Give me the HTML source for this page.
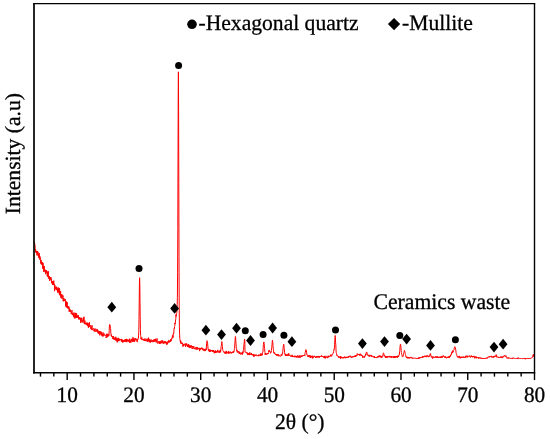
<!DOCTYPE html>
<html><head><meta charset="utf-8"><style>
html,body{margin:0;padding:0;background:#fff;}
svg{display:block}
text{font-family:"Liberation Serif","Times New Roman",serif;font-size:21.6px;fill:#000;stroke:#000;stroke-width:0.3px;text-rendering:geometricPrecision}
</style></head><body>
<svg width="550" height="439" viewBox="0 0 550 439">
<rect x="0" y="0" width="550" height="439" fill="#fff"/>
<polyline points="34.0,241.6 34.2,243.3 34.4,243.2 34.6,243.0 34.8,245.1 35.0,245.0 35.2,248.4 35.4,252.2 35.6,249.4 35.8,249.9 36.0,252.7 36.2,252.8 36.4,252.7 36.6,251.0 36.8,253.3 37.0,255.3 37.2,251.4 37.4,253.7 37.6,251.1 37.8,252.8 38.0,252.1 38.2,255.9 38.4,254.1 38.6,257.7 38.8,257.8 39.0,257.5 39.2,253.0 39.4,257.5 39.6,258.9 39.8,259.6 40.0,256.5 40.2,259.1 40.4,258.5 40.6,259.2 40.8,263.6 41.0,260.1 41.2,262.2 41.4,264.5 41.6,261.9 41.8,263.3 42.0,264.2 42.2,264.6 42.4,262.3 42.6,265.5 42.8,268.6 43.0,262.9 43.2,268.3 43.4,267.2 43.6,266.0 43.8,272.0 44.0,269.8 44.2,266.1 44.4,269.1 44.6,270.6 44.8,269.4 45.0,271.6 45.2,270.3 45.4,272.2 45.6,274.2 45.8,270.1 46.0,272.3 46.2,271.2 46.4,272.8 46.6,270.4 46.8,272.0 47.0,273.1 47.2,275.8 47.4,276.6 47.6,271.8 47.8,273.2 48.0,276.5 48.2,271.2 48.4,274.7 48.6,275.8 48.8,278.9 49.0,278.0 49.2,276.1 49.4,276.3 49.6,276.9 49.8,280.9 50.0,277.1 50.2,277.7 50.4,279.4 50.6,278.7 50.8,278.9 51.0,277.3 51.2,280.0 51.4,279.4 51.6,283.2 51.8,282.5 52.0,281.4 52.2,283.3 52.4,281.5 52.6,284.8 52.8,283.0 53.0,284.6 53.2,281.0 53.4,284.9 53.6,281.0 53.8,280.6 54.0,284.6 54.2,283.8 54.4,286.4 54.6,291.1 54.8,284.9 55.0,285.6 55.2,287.6 55.4,288.5 55.6,287.4 55.8,287.6 56.0,289.8 56.2,289.7 56.4,286.7 56.6,288.9 56.8,289.4 57.0,287.4 57.2,290.5 57.4,288.4 57.6,292.5 57.8,291.1 58.0,291.2 58.2,290.0 58.4,291.3 58.6,287.6 58.8,289.7 59.0,293.1 59.2,288.1 59.4,294.6 59.6,289.4 59.8,295.0 60.0,291.9 60.2,295.5 60.4,294.4 60.6,291.2 60.8,297.3 61.0,298.0 61.2,295.1 61.4,294.9 61.6,295.5 61.8,294.1 62.0,298.8 62.2,295.7 62.4,297.1 62.6,295.8 62.8,296.5 63.0,295.5 63.2,301.2 63.4,298.5 63.6,301.2 63.8,299.5 64.0,298.4 64.2,299.5 64.4,299.4 64.6,300.9 64.8,300.4 65.0,301.0 65.2,299.1 65.4,300.7 65.6,306.3 65.8,301.8 66.0,301.4 66.2,304.7 66.4,307.4 66.6,301.7 66.8,304.8 67.0,304.3 67.2,302.4 67.4,307.9 67.6,306.8 67.8,307.3 68.0,306.1 68.2,308.9 68.4,307.2 68.6,308.2 68.8,306.6 69.0,306.6 69.2,311.8 69.4,308.5 69.6,310.3 69.8,309.9 70.0,309.4 70.2,309.5 70.4,311.9 70.6,310.4 70.8,310.9 71.0,311.5 71.2,313.9 71.4,313.2 71.6,312.9 71.8,311.4 72.0,310.2 72.2,314.7 72.4,315.0 72.6,313.2 72.8,314.7 73.0,315.3 73.2,315.5 73.4,315.8 73.6,313.5 73.8,317.2 74.0,312.5 74.2,316.3 74.4,315.9 74.6,316.7 74.8,318.6 75.0,318.0 75.2,313.7 75.4,312.9 75.6,317.4 75.8,314.4 76.0,316.3 76.2,317.9 76.4,313.8 76.6,313.2 76.8,317.4 77.0,317.2 77.2,316.8 77.4,317.5 77.6,316.1 77.8,315.2 78.0,317.6 78.2,316.5 78.4,315.5 78.6,319.2 78.8,318.4 79.0,319.3 79.2,317.1 79.4,317.8 79.6,317.4 79.8,317.7 80.0,319.5 80.2,318.1 80.4,320.0 80.6,320.1 80.8,322.9 81.0,317.6 81.2,321.4 81.4,319.9 81.6,320.2 81.8,318.1 82.0,319.7 82.2,321.7 82.4,320.6 82.6,320.9 82.8,320.5 83.0,322.8 83.2,321.1 83.4,317.9 83.6,320.4 83.8,318.6 84.0,316.8 84.2,321.0 84.4,324.0 84.6,322.2 84.8,320.5 85.0,321.1 85.2,324.3 85.4,323.0 85.6,323.0 85.8,323.1 86.0,323.4 86.2,324.7 86.4,324.5 86.6,324.1 86.8,322.5 87.0,324.9 87.2,323.3 87.4,326.1 87.6,322.8 87.8,324.6 88.0,325.0 88.2,323.2 88.4,327.8 88.6,327.6 88.8,325.0 89.0,326.9 89.2,326.5 89.4,322.3 89.6,326.6 89.8,326.3 90.0,326.6 90.2,325.1 90.4,326.4 90.6,326.6 90.8,328.7 91.0,327.7 91.2,327.3 91.4,329.6 91.6,326.8 91.8,327.2 92.0,325.3 92.2,330.2 92.4,329.5 92.6,329.6 92.8,329.3 93.0,328.7 93.2,328.9 93.4,328.4 93.6,328.6 93.8,329.1 94.0,331.2 94.2,330.0 94.4,329.3 94.6,328.7 94.8,328.8 95.0,331.9 95.2,330.6 95.4,330.1 95.6,329.6 95.8,328.7 96.0,330.3 96.2,331.7 96.4,330.1 96.6,330.4 96.8,330.5 97.0,331.1 97.2,329.0 97.4,330.9 97.6,330.2 97.8,332.6 98.0,330.5 98.2,332.5 98.4,333.8 98.6,331.5 98.8,331.3 99.0,332.4 99.2,332.3 99.4,331.1 99.6,333.1 99.8,335.3 100.0,332.4 100.2,332.6 100.4,331.6 100.6,333.4 100.8,331.5 101.0,331.8 101.2,335.0 101.4,332.2 101.6,334.9 101.8,335.6 102.0,334.0 102.2,334.5 102.4,336.4 102.6,333.7 102.8,333.3 103.0,332.4 103.2,334.3 103.4,336.3 103.6,335.7 103.8,333.4 104.0,333.6 104.2,334.1 104.4,335.2 104.6,334.7 104.8,335.3 105.0,335.5 105.2,334.9 105.4,335.3 105.6,335.7 105.8,335.4 106.0,336.2 106.2,338.0 106.4,336.5 106.6,336.0 106.8,333.9 107.0,336.5 107.2,333.7 107.4,334.4 107.6,337.2 107.8,337.1 108.0,336.0 108.2,334.1 108.4,335.6 108.6,334.8 108.8,335.4 109.0,335.6 109.2,330.5 109.4,326.1 109.6,324.5 109.8,324.6 110.0,325.2 110.2,325.3 110.4,328.4 110.6,328.5 110.8,332.9 111.0,334.3 111.2,335.6 111.4,334.7 111.6,336.7 111.8,336.5 112.0,336.6 112.2,337.0 112.4,336.1 112.6,336.1 112.8,338.9 113.0,337.8 113.2,338.4 113.4,339.4 113.6,336.3 113.8,337.5 114.0,338.7 114.2,339.0 114.4,338.2 114.6,339.9 114.8,339.0 115.0,337.4 115.2,337.8 115.4,339.9 115.6,339.5 115.8,336.8 116.0,340.7 116.2,339.9 116.4,340.8 116.6,338.9 116.8,339.0 117.0,338.1 117.2,342.4 117.4,339.3 117.6,341.4 117.8,338.9 118.0,339.9 118.2,337.8 118.4,339.4 118.6,341.0 118.8,338.5 119.0,341.2 119.2,340.4 119.4,338.9 119.6,339.6 119.8,339.7 120.0,340.2 120.2,339.7 120.4,339.4 120.6,340.0 120.8,339.3 121.0,339.0 121.2,340.5 121.4,341.6 121.6,338.9 121.8,340.7 122.0,340.0 122.2,339.7 122.4,341.8 122.6,340.3 122.8,342.6 123.0,340.1 123.2,341.4 123.4,340.7 123.6,340.1 123.8,341.6 124.0,340.8 124.2,341.6 124.4,340.9 124.6,339.7 124.8,340.9 125.0,341.0 125.2,342.0 125.4,339.9 125.6,340.9 125.8,339.0 126.0,341.7 126.2,339.8 126.4,338.9 126.6,340.9 126.8,342.2 127.0,339.3 127.2,339.7 127.4,340.1 127.6,339.7 127.8,341.3 128.0,340.0 128.2,340.1 128.4,341.5 128.6,340.0 128.8,341.3 129.0,339.7 129.2,339.4 129.4,338.7 129.6,342.8 129.8,340.4 130.0,341.0 130.2,340.6 130.4,340.8 130.6,340.7 130.8,342.8 131.0,339.4 131.2,338.8 131.4,339.4 131.6,339.0 131.8,341.4 132.0,341.4 132.2,339.4 132.4,338.9 132.6,340.0 132.8,342.0 133.0,337.2 133.2,341.0 133.4,339.1 133.6,341.5 133.8,339.1 134.0,339.9 134.2,338.5 134.4,339.1 134.6,341.8 134.8,341.1 135.0,339.7 135.2,339.2 135.4,338.0 135.6,339.7 135.8,340.1 136.0,340.0 136.2,340.0 136.4,338.8 136.6,340.0 136.8,340.0 137.0,341.5 137.2,342.1 137.4,339.7 137.6,338.9 137.8,339.6 138.0,338.8 138.2,338.4 138.4,338.4 138.6,335.1 138.8,331.4 139.0,319.3 139.2,302.8 139.4,285.2 139.6,277.7 139.8,283.6 140.0,300.5 140.2,316.7 140.4,329.3 140.6,335.3 140.8,336.5 141.0,339.1 141.2,337.9 141.4,338.9 141.6,339.4 141.8,337.5 142.0,340.0 142.2,340.1 142.4,339.8 142.6,339.6 142.8,339.7 143.0,339.0 143.2,339.9 143.4,339.6 143.6,340.3 143.8,338.9 144.0,340.5 144.2,340.4 144.4,340.1 144.6,339.8 144.8,341.0 145.0,338.4 145.2,340.9 145.4,340.6 145.6,340.7 145.8,340.8 146.0,339.7 146.2,340.1 146.4,341.2 146.6,340.9 146.8,340.7 147.0,338.7 147.2,341.1 147.4,341.8 147.6,341.6 147.8,340.8 148.0,338.7 148.2,341.6 148.4,340.4 148.6,337.7 148.8,341.0 149.0,338.9 149.2,339.1 149.4,339.9 149.6,342.1 149.8,340.2 150.0,341.0 150.2,342.7 150.4,342.5 150.6,340.6 150.8,340.5 151.0,339.4 151.2,340.0 151.4,341.3 151.6,341.3 151.8,341.0 152.0,342.0 152.2,340.0 152.4,340.9 152.6,341.8 152.8,341.6 153.0,342.2 153.2,341.5 153.4,340.7 153.6,341.5 153.8,340.0 154.0,339.3 154.2,341.8 154.4,341.1 154.6,341.5 154.8,339.3 155.0,340.8 155.2,340.6 155.4,340.3 155.6,338.8 155.8,340.9 156.0,342.3 156.2,341.8 156.4,340.7 156.6,341.4 156.8,342.3 157.0,338.4 157.2,341.3 157.4,342.1 157.6,342.3 157.8,343.5 158.0,342.8 158.2,342.0 158.4,342.0 158.6,342.5 158.8,341.1 159.0,341.7 159.2,342.8 159.4,343.9 159.6,341.6 159.8,341.8 160.0,342.1 160.2,343.4 160.4,341.9 160.6,343.5 160.8,340.9 161.0,341.8 161.2,341.8 161.4,342.9 161.6,343.2 161.8,340.4 162.0,341.1 162.2,342.5 162.4,341.4 162.6,340.5 162.8,343.3 163.0,342.7 163.2,342.7 163.4,341.7 163.6,343.4 163.8,342.0 164.0,343.5 164.2,341.3 164.4,341.4 164.6,342.6 164.8,341.6 165.0,343.1 165.2,342.7 165.4,341.4 165.6,342.5 165.8,342.1 166.0,343.5 166.2,341.8 166.4,342.0 166.6,343.8 166.8,344.9 167.0,344.6 167.2,342.4 167.4,342.6 167.6,344.0 167.8,342.1 168.0,341.1 168.2,342.3 168.4,342.6 168.6,341.1 168.8,340.2 169.0,340.3 169.2,342.5 169.4,340.9 169.6,341.4 169.8,341.7 170.0,342.0 170.2,340.8 170.4,341.5 170.6,339.8 170.8,340.1 171.0,339.1 171.2,341.1 171.4,339.5 171.6,338.4 171.8,338.4 172.0,338.1 172.2,338.5 172.4,335.4 172.6,335.4 172.8,335.4 173.0,337.7 173.2,335.1 173.4,333.0 173.6,332.9 173.8,333.2 174.0,329.6 174.2,328.2 174.4,328.7 174.6,326.6 174.8,325.4 175.0,322.8 175.2,324.1 175.4,322.5 175.6,319.9 175.8,318.7 176.0,314.5 176.2,316.2 176.4,314.1 176.6,313.6 176.8,312.6 177.0,309.7 177.2,304.7 177.4,297.5 177.6,272.8 177.8,228.3 178.0,162.7 178.2,97.7 178.4,71.8 178.6,109.7 178.8,183.4 179.0,256.5 179.2,305.2 179.4,326.8 179.6,334.2 179.8,338.5 180.0,339.6 180.2,341.1 180.4,342.2 180.6,340.5 180.8,343.3 181.0,341.6 181.2,343.8 181.4,343.6 181.6,343.5 181.8,344.0 182.0,343.6 182.2,343.7 182.4,342.8 182.6,344.6 182.8,346.5 183.0,346.6 183.2,346.0 183.4,345.3 183.6,343.9 183.8,346.1 184.0,344.5 184.2,344.5 184.4,344.3 184.6,344.6 184.8,344.1 185.0,344.4 185.2,343.4 185.4,344.1 185.6,346.8 185.8,344.3 186.0,344.1 186.2,344.9 186.4,345.2 186.6,343.4 186.8,344.5 187.0,345.8 187.2,345.2 187.4,345.2 187.6,346.8 187.8,344.7 188.0,345.6 188.2,345.1 188.4,347.3 188.6,344.0 188.8,345.4 189.0,345.7 189.2,347.0 189.4,347.1 189.6,348.0 189.8,345.2 190.0,347.6 190.2,346.7 190.4,346.4 190.6,347.6 190.8,346.2 191.0,345.2 191.2,346.9 191.4,345.8 191.6,346.7 191.8,347.7 192.0,347.7 192.2,349.0 192.4,347.4 192.6,346.1 192.8,346.9 193.0,346.8 193.2,346.6 193.4,348.2 193.6,347.3 193.8,346.1 194.0,348.6 194.2,347.9 194.4,348.4 194.6,348.2 194.8,348.8 195.0,348.3 195.2,349.4 195.4,348.7 195.6,348.7 195.8,348.7 196.0,347.0 196.2,348.2 196.4,348.2 196.6,348.6 196.8,347.2 197.0,350.0 197.2,348.6 197.4,347.4 197.6,347.0 197.8,348.3 198.0,348.5 198.2,348.0 198.4,348.7 198.6,348.1 198.8,349.2 199.0,348.1 199.2,348.7 199.4,349.7 199.6,351.1 199.8,347.9 200.0,348.4 200.2,348.2 200.4,349.7 200.6,348.0 200.8,348.7 201.0,349.1 201.2,348.3 201.4,348.4 201.6,348.9 201.8,347.5 202.0,348.2 202.2,349.1 202.4,349.7 202.6,349.5 202.8,348.1 203.0,349.3 203.2,350.5 203.4,350.3 203.6,349.8 203.8,349.1 204.0,350.4 204.2,349.4 204.4,348.9 204.6,349.2 204.8,351.1 205.0,350.0 205.2,350.8 205.4,349.3 205.6,350.4 205.8,348.9 206.0,348.7 206.2,350.0 206.4,346.9 206.6,343.7 206.8,341.9 207.0,340.7 207.2,341.5 207.4,341.6 207.6,342.8 207.8,346.1 208.0,348.0 208.2,349.1 208.4,350.7 208.6,350.1 208.8,350.7 209.0,349.1 209.2,350.9 209.4,352.0 209.6,350.9 209.8,350.5 210.0,350.5 210.2,351.9 210.4,349.7 210.6,350.4 210.8,351.0 211.0,351.3 211.2,350.3 211.4,351.0 211.6,350.6 211.8,350.9 212.0,350.8 212.2,350.0 212.4,351.0 212.6,351.7 212.8,350.3 213.0,350.9 213.2,351.7 213.4,350.3 213.6,351.4 213.8,350.4 214.0,352.3 214.2,353.3 214.4,353.1 214.6,351.3 214.8,352.1 215.0,351.6 215.2,351.6 215.4,352.8 215.6,350.5 215.8,352.4 216.0,351.5 216.2,352.7 216.4,351.7 216.6,351.0 216.8,351.8 217.0,352.2 217.2,351.6 217.4,352.0 217.6,351.2 217.8,349.9 218.0,352.4 218.2,352.2 218.4,351.8 218.6,351.7 218.8,352.5 219.0,351.3 219.2,351.1 219.4,351.5 219.6,352.6 219.8,350.5 220.0,352.5 220.2,350.9 220.4,350.4 220.6,351.9 220.8,350.0 221.0,347.8 221.2,346.6 221.4,345.3 221.6,343.4 221.8,341.6 222.0,342.8 222.2,345.1 222.4,346.4 222.6,349.2 222.8,350.2 223.0,350.6 223.2,351.1 223.4,351.7 223.6,351.8 223.8,351.4 224.0,351.6 224.2,352.8 224.4,352.2 224.6,352.7 224.8,353.0 225.0,352.6 225.2,353.9 225.4,351.6 225.6,352.9 225.8,352.0 226.0,353.7 226.2,353.7 226.4,350.9 226.6,351.7 226.8,353.0 227.0,353.1 227.2,353.1 227.4,352.5 227.6,352.9 227.8,353.1 228.0,352.6 228.2,353.5 228.4,351.0 228.6,353.2 228.8,352.0 229.0,353.5 229.2,352.6 229.4,352.1 229.6,353.0 229.8,352.0 230.0,352.0 230.2,351.5 230.4,352.6 230.6,353.0 230.8,353.3 231.0,352.4 231.2,353.3 231.4,352.4 231.6,352.3 231.8,352.8 232.0,353.1 232.2,352.0 232.4,352.1 232.6,352.1 232.8,352.3 233.0,351.5 233.2,352.9 233.4,351.7 233.6,352.3 233.8,351.0 234.0,351.5 234.2,350.7 234.4,348.6 234.6,348.3 234.8,344.0 235.0,341.8 235.2,338.3 235.4,336.5 235.6,337.3 235.8,340.8 236.0,343.8 236.2,346.8 236.4,348.8 236.6,349.1 236.8,351.1 237.0,350.1 237.2,352.3 237.4,351.6 237.6,351.7 237.8,352.1 238.0,352.6 238.2,351.3 238.4,351.1 238.6,351.7 238.8,351.0 239.0,351.9 239.2,353.9 239.4,352.0 239.6,353.4 239.8,352.0 240.0,353.3 240.2,352.9 240.4,353.2 240.6,353.7 240.8,354.6 241.0,353.5 241.2,353.5 241.4,352.7 241.6,353.8 241.8,353.2 242.0,353.9 242.2,353.3 242.4,354.5 242.6,351.7 242.8,352.8 243.0,353.3 243.2,351.9 243.4,350.6 243.6,349.3 243.8,346.1 244.0,344.3 244.2,343.0 244.4,340.2 244.6,339.1 244.8,340.7 245.0,352.2 245.2,352.2 245.4,352.2 245.6,352.2 245.8,352.2 246.0,352.6 246.2,352.2 246.4,352.2 246.6,352.2 246.8,352.6 247.0,352.2 247.2,354.0 247.4,353.2 247.6,354.0 247.8,355.1 248.0,354.6 248.2,353.0 248.4,354.4 248.6,354.7 248.8,353.3 249.0,353.2 249.2,353.9 249.4,352.9 249.6,355.1 249.8,352.4 250.0,353.4 250.2,354.0 250.4,354.1 250.6,354.4 250.8,354.5 251.0,354.2 251.2,355.1 251.4,353.0 251.6,354.5 251.8,354.0 252.0,354.6 252.2,354.7 252.4,354.0 252.6,354.2 252.8,355.2 253.0,355.0 253.2,354.3 253.4,356.2 253.6,356.4 253.8,354.0 254.0,355.2 254.2,356.6 254.4,355.6 254.6,355.2 254.8,355.0 255.0,354.8 255.2,355.1 255.4,354.9 255.6,355.8 255.8,355.1 256.0,355.1 256.2,354.7 256.4,355.4 256.6,354.9 256.8,355.3 257.0,356.1 257.2,355.6 257.4,355.7 257.6,355.6 257.8,355.4 258.0,355.3 258.2,355.2 258.4,355.9 258.6,354.7 258.8,356.2 259.0,355.4 259.2,354.9 259.4,355.0 259.6,354.9 259.8,355.4 260.0,354.8 260.2,355.9 260.4,354.7 260.6,353.7 260.8,354.6 261.0,353.7 261.2,354.9 261.4,355.5 261.6,355.2 261.8,353.8 262.0,354.0 262.2,355.3 262.4,353.9 262.6,352.8 262.8,352.0 263.0,351.0 263.2,347.8 263.4,344.5 263.6,342.6 263.8,342.0 264.0,341.9 264.2,343.7 264.4,346.9 264.6,348.6 264.8,351.1 265.0,352.5 265.2,354.8 265.4,353.2 265.6,354.0 265.8,354.1 266.0,354.5 266.2,354.9 266.4,353.9 266.6,353.6 266.8,353.1 267.0,353.5 267.2,354.4 267.4,354.0 267.6,353.3 267.8,353.7 268.0,353.8 268.2,354.0 268.4,352.8 268.6,352.4 268.8,350.5 269.0,350.4 269.2,351.4 269.4,350.4 269.6,350.6 269.8,351.8 270.0,352.1 270.2,352.4 270.4,353.2 270.6,353.3 270.8,353.2 271.0,351.6 271.2,352.1 271.4,350.5 271.6,349.0 271.8,347.2 272.0,344.9 272.2,342.6 272.4,340.2 272.6,341.0 272.8,342.8 273.0,345.3 273.2,348.1 273.4,349.4 273.6,351.2 273.8,353.0 274.0,352.2 274.2,353.7 274.4,353.5 274.6,353.7 274.8,352.9 275.0,353.5 275.2,354.2 275.4,354.9 275.6,355.0 275.8,354.4 276.0,354.4 276.2,354.1 276.4,355.0 276.6,354.6 276.8,355.2 277.0,356.0 277.2,355.0 277.4,354.1 277.6,354.6 277.8,354.3 278.0,354.5 278.2,356.1 278.4,355.5 278.6,354.5 278.8,355.9 279.0,356.3 279.2,355.4 279.4,355.2 279.6,355.4 279.8,355.8 280.0,356.0 280.2,356.3 280.4,356.2 280.6,356.2 280.8,356.3 281.0,355.8 281.2,354.4 281.4,355.2 281.6,355.4 281.8,354.8 282.0,355.3 282.2,354.1 282.4,353.0 282.6,353.3 282.8,351.2 283.0,348.9 283.2,347.2 283.4,345.5 283.6,344.4 283.8,344.2 284.0,346.1 284.2,348.4 284.4,350.1 284.6,352.4 284.8,354.2 285.0,353.8 285.2,353.8 285.4,356.0 285.6,354.6 285.8,354.2 286.0,355.2 286.2,355.3 286.4,354.7 286.6,355.7 286.8,354.9 287.0,354.6 287.2,355.3 287.4,355.7 287.6,354.7 287.8,355.1 288.0,354.5 288.2,356.0 288.4,353.6 288.6,354.5 288.8,353.6 289.0,353.6 289.2,354.5 289.4,354.9 289.6,355.6 289.8,355.3 290.0,355.0 290.2,355.2 290.4,355.9 290.6,356.0 290.8,356.5 291.0,355.9 291.2,356.3 291.4,356.6 291.6,355.8 291.8,354.9 292.0,355.1 292.2,355.0 292.4,356.8 292.6,355.5 292.8,356.7 293.0,356.4 293.2,357.1 293.4,356.7 293.6,356.1 293.8,356.1 294.0,356.3 294.2,356.4 294.4,356.1 294.6,356.4 294.8,357.3 295.0,355.6 295.2,356.7 295.4,356.1 295.6,356.7 295.8,357.1 296.0,356.7 296.2,357.1 296.4,356.0 296.6,357.4 296.8,356.6 297.0,357.2 297.2,356.9 297.4,355.4 297.6,356.4 297.8,356.8 298.0,357.5 298.2,356.8 298.4,356.8 298.6,355.8 298.8,357.3 299.0,357.5 299.2,356.5 299.4,356.3 299.6,355.5 299.8,356.9 300.0,357.9 300.2,356.7 300.4,357.0 300.6,356.6 300.8,355.7 301.0,356.9 301.2,355.5 301.4,356.0 301.6,356.3 301.8,356.7 302.0,356.4 302.2,356.4 302.4,355.7 302.6,355.4 302.8,356.2 303.0,355.8 303.2,355.4 303.4,355.4 303.6,355.9 303.8,355.1 304.0,355.3 304.2,355.1 304.4,355.9 304.6,355.7 304.8,356.0 305.0,353.2 305.2,352.5 305.4,352.1 305.6,350.3 305.8,349.6 306.0,350.7 306.2,350.3 306.4,351.0 306.6,352.2 306.8,354.3 307.0,355.1 307.2,354.8 307.4,355.3 307.6,356.4 307.8,356.5 308.0,355.9 308.2,356.6 308.4,356.6 308.6,355.3 308.8,356.2 309.0,356.6 309.2,356.1 309.4,355.3 309.6,356.3 309.8,356.9 310.0,357.4 310.2,355.4 310.4,358.0 310.6,356.1 310.8,357.2 311.0,357.4 311.2,357.3 311.4,356.9 311.6,356.2 311.8,357.2 312.0,356.5 312.2,355.6 312.4,358.4 312.6,357.3 312.8,357.9 313.0,356.5 313.2,357.7 313.4,357.8 313.6,357.7 313.8,356.9 314.0,356.3 314.2,356.9 314.4,355.8 314.6,356.1 314.8,357.0 315.0,356.4 315.2,356.8 315.4,356.9 315.6,357.9 315.8,357.6 316.0,356.9 316.2,357.5 316.4,356.5 316.6,356.7 316.8,357.3 317.0,356.2 317.2,356.7 317.4,356.1 317.6,356.8 317.8,357.6 318.0,356.3 318.2,356.8 318.4,356.2 318.6,356.1 318.8,356.0 319.0,357.4 319.2,357.9 319.4,356.8 319.6,356.2 319.8,356.9 320.0,356.3 320.2,356.9 320.4,356.6 320.6,356.6 320.8,356.8 321.0,356.1 321.2,356.2 321.4,355.5 321.6,356.2 321.8,355.8 322.0,356.5 322.2,356.1 322.4,356.7 322.6,356.9 322.8,356.0 323.0,356.3 323.2,356.3 323.4,357.2 323.6,357.8 323.8,357.4 324.0,356.8 324.2,357.7 324.4,356.3 324.6,357.8 324.8,356.8 325.0,355.8 325.2,358.5 325.4,358.0 325.6,356.8 325.8,357.3 326.0,357.1 326.2,357.2 326.4,356.4 326.6,356.8 326.8,357.3 327.0,357.1 327.2,357.6 327.4,357.0 327.6,358.1 327.8,356.5 328.0,356.9 328.2,355.7 328.4,356.0 328.6,357.3 328.8,356.1 329.0,356.8 329.2,356.5 329.4,355.9 329.6,356.2 329.8,356.0 330.0,355.9 330.2,356.4 330.4,356.0 330.6,355.0 330.8,354.6 331.0,354.8 331.2,354.6 331.4,355.3 331.6,356.4 331.8,355.6 332.0,355.2 332.2,355.1 332.4,354.5 332.6,354.1 332.8,353.6 333.0,353.4 333.2,352.8 333.4,352.9 333.6,351.6 333.8,351.0 334.0,349.6 334.2,349.9 334.4,347.2 334.6,344.8 334.8,340.4 335.0,337.5 335.2,335.5 335.4,337.7 335.6,342.6 335.8,344.8 336.0,349.6 336.2,352.3 336.4,353.2 336.6,354.3 336.8,355.3 337.0,354.8 337.2,355.8 337.4,355.5 337.6,355.9 337.8,356.1 338.0,356.5 338.2,356.8 338.4,357.0 338.6,356.1 338.8,357.9 339.0,357.5 339.2,357.4 339.4,356.8 339.6,357.0 339.8,357.4 340.0,357.3 340.2,356.3 340.4,357.6 340.6,358.7 340.8,356.4 341.0,357.8 341.2,357.5 341.4,357.3 341.6,358.0 341.8,356.9 342.0,357.6 342.2,358.2 342.4,357.5 342.6,357.4 342.8,357.7 343.0,357.5 343.2,358.3 343.4,357.3 343.6,358.1 343.8,357.3 344.0,358.0 344.2,357.7 344.4,356.6 344.6,357.6 344.8,357.1 345.0,357.4 345.2,358.2 345.4,357.0 345.6,356.9 345.8,358.1 346.0,357.4 346.2,358.0 346.4,357.4 346.6,356.8 346.8,357.1 347.0,357.7 347.2,357.6 347.4,357.0 347.6,357.0 347.8,356.9 348.0,356.6 348.2,357.9 348.4,356.8 348.6,356.2 348.8,356.5 349.0,357.1 349.2,357.0 349.4,356.5 349.6,356.2 349.8,356.5 350.0,355.6 350.2,355.8 350.4,357.0 350.6,356.3 350.8,356.9 351.0,357.4 351.2,357.1 351.4,356.8 351.6,357.9 351.8,357.2 352.0,356.7 352.2,357.3 352.4,357.2 352.6,356.6 352.8,357.1 353.0,357.0 353.2,356.1 353.4,357.1 353.6,357.1 353.8,356.9 354.0,356.1 354.2,356.6 354.4,356.7 354.6,356.7 354.8,355.8 355.0,356.7 355.2,355.5 355.4,356.0 355.6,356.8 355.8,355.5 356.0,355.5 356.2,356.3 356.4,355.3 356.6,355.2 356.8,355.4 357.0,355.9 357.2,353.6 357.4,354.4 357.6,354.2 357.8,354.1 358.0,354.2 358.2,354.2 358.4,354.9 358.6,354.1 358.8,354.7 359.0,354.9 359.2,354.0 359.4,354.6 359.6,355.6 359.8,354.6 360.0,353.9 360.2,354.2 360.4,353.8 360.6,354.8 360.8,355.4 361.0,354.4 361.2,355.0 361.4,356.0 361.6,355.2 361.8,355.8 362.0,355.2 362.2,355.5 362.4,355.9 362.6,357.6 362.8,356.3 363.0,356.4 363.2,356.5 363.4,356.6 363.6,357.0 363.8,356.7 364.0,357.7 364.2,356.6 364.4,357.3 364.6,356.6 364.8,356.7 365.0,355.5 365.2,356.1 365.4,356.0 365.6,355.5 365.8,353.8 366.0,354.7 366.2,353.1 366.4,352.2 366.6,352.1 366.8,352.2 367.0,353.3 367.2,353.2 367.4,354.2 367.6,355.4 367.8,355.6 368.0,355.3 368.2,355.2 368.4,355.1 368.6,355.5 368.8,356.2 369.0,354.9 369.2,356.5 369.4,356.2 369.6,355.4 369.8,356.3 370.0,355.0 370.2,354.9 370.4,355.3 370.6,355.8 370.8,356.0 371.0,355.9 371.2,356.3 371.4,355.2 371.6,356.7 371.8,355.7 372.0,356.2 372.2,356.4 372.4,356.0 372.6,356.0 372.8,356.2 373.0,356.8 373.2,357.2 373.4,357.2 373.6,356.5 373.8,356.6 374.0,356.6 374.2,357.4 374.4,356.2 374.6,357.8 374.8,357.1 375.0,357.0 375.2,357.6 375.4,357.9 375.6,357.6 375.8,357.9 376.0,357.5 376.2,357.9 376.4,357.9 376.6,357.2 376.8,357.9 377.0,357.3 377.2,357.2 377.4,356.7 377.6,356.9 377.8,357.4 378.0,356.3 378.2,357.3 378.4,357.1 378.6,357.0 378.8,355.7 379.0,356.8 379.2,357.1 379.4,356.4 379.6,356.8 379.8,355.5 380.0,357.1 380.2,356.4 380.4,357.2 380.6,355.8 380.8,357.1 381.0,356.6 381.2,357.2 381.4,356.3 381.6,356.4 381.8,357.9 382.0,356.3 382.2,356.3 382.4,356.4 382.6,355.7 382.8,356.3 383.0,355.7 383.2,353.5 383.4,352.8 383.6,353.4 383.8,353.7 384.0,354.3 384.2,355.4 384.4,355.2 384.6,356.1 384.8,355.8 385.0,355.9 385.2,357.2 385.4,356.4 385.6,357.9 385.8,356.8 386.0,356.4 386.2,357.2 386.4,357.7 386.6,357.0 386.8,356.1 387.0,356.9 387.2,357.5 387.4,356.5 387.6,356.3 387.8,357.3 388.0,356.8 388.2,356.1 388.4,356.5 388.6,356.3 388.8,356.9 389.0,356.8 389.2,357.3 389.4,357.1 389.6,355.9 389.8,356.9 390.0,357.1 390.2,357.0 390.4,357.3 390.6,356.6 390.8,356.4 391.0,357.4 391.2,356.5 391.4,356.0 391.6,357.6 391.8,356.8 392.0,357.1 392.2,356.6 392.4,356.7 392.6,356.9 392.8,357.3 393.0,357.6 393.2,356.3 393.4,357.6 393.6,356.7 393.8,356.7 394.0,357.5 394.2,357.1 394.4,356.3 394.6,357.9 394.8,356.5 395.0,357.0 395.2,356.9 395.4,357.5 395.6,356.5 395.8,357.2 396.0,356.2 396.2,357.1 396.4,356.1 396.6,356.2 396.8,357.4 397.0,356.5 397.2,356.4 397.4,357.6 397.6,356.5 397.8,355.9 398.0,356.7 398.2,355.6 398.4,356.8 398.6,356.8 398.8,355.6 399.0,355.3 399.2,355.1 399.4,354.0 399.6,351.9 399.8,350.7 400.0,347.0 400.2,345.6 400.4,344.3 400.6,344.3 400.8,346.0 401.0,347.5 401.2,350.8 401.4,352.5 401.6,353.8 401.8,354.5 402.0,355.2 402.2,356.3 402.4,355.8 402.6,356.3 402.8,356.7 403.0,356.5 403.2,356.3 403.4,354.7 403.6,353.4 403.8,353.4 404.0,352.0 404.2,351.4 404.4,350.4 404.6,351.0 404.8,351.4 405.0,352.3 405.2,353.4 405.4,354.4 405.6,355.3 405.8,356.0 406.0,356.9 406.2,356.6 406.4,357.8 406.6,357.1 406.8,357.7 407.0,357.3 407.2,357.2 407.4,358.3 407.6,357.3 407.8,356.9 408.0,357.2 408.2,357.4 408.4,358.4 408.6,357.6 408.8,358.0 409.0,357.2 409.2,357.8 409.4,357.9 409.6,358.4 409.8,357.4 410.0,357.9 410.2,357.8 410.4,357.3 410.6,357.7 410.8,357.7 411.0,356.9 411.2,358.0 411.4,358.0 411.6,357.7 411.8,357.4 412.0,358.4 412.2,358.0 412.4,358.3 412.6,358.4 412.8,357.8 413.0,358.2 413.2,357.9 413.4,358.0 413.6,358.0 413.8,358.0 414.0,358.4 414.2,358.1 414.4,358.0 414.6,358.0 414.8,358.2 415.0,357.9 415.2,358.0 415.4,358.2 415.6,358.0 415.8,358.2 416.0,358.0 416.2,358.8 416.4,358.7 416.6,358.4 416.8,358.3 417.0,358.9 417.2,358.3 417.4,358.1 417.6,358.2 417.8,358.2 418.0,358.5 418.2,358.0 418.4,358.6 418.6,357.7 418.8,358.2 419.0,357.5 419.2,358.5 419.4,357.7 419.6,357.8 419.8,358.1 420.0,358.2 420.2,357.3 420.4,357.5 420.6,357.1 420.8,357.7 421.0,357.5 421.2,357.4 421.4,357.2 421.6,357.3 421.8,357.1 422.0,357.6 422.2,358.0 422.4,356.3 422.6,357.1 422.8,356.9 423.0,357.3 423.2,356.5 423.4,356.9 423.6,356.4 423.8,357.2 424.0,356.8 424.2,356.7 424.4,356.9 424.6,356.5 424.8,355.7 425.0,356.8 425.2,356.6 425.4,356.3 425.6,356.9 425.8,357.0 426.0,355.6 426.2,355.7 426.4,357.1 426.6,357.1 426.8,355.9 427.0,355.7 427.2,356.0 427.4,356.1 427.6,355.6 427.8,356.5 428.0,355.8 428.2,355.9 428.4,357.1 428.6,356.2 428.8,356.6 429.0,356.9 429.2,356.9 429.4,356.1 429.6,355.9 429.8,354.8 430.0,355.3 430.2,354.1 430.4,353.5 430.6,353.8 430.8,354.9 431.0,355.6 431.2,357.0 431.4,357.3 431.6,356.7 431.8,357.1 432.0,356.6 432.2,357.4 432.4,357.4 432.6,358.6 432.8,357.5 433.0,356.5 433.2,357.2 433.4,357.5 433.6,356.9 433.8,357.0 434.0,357.2 434.2,357.5 434.4,357.3 434.6,356.9 434.8,357.7 435.0,357.0 435.2,357.0 435.4,356.6 435.6,356.9 435.8,357.5 436.0,356.4 436.2,357.1 436.4,357.5 436.6,356.9 436.8,357.2 437.0,356.5 437.2,357.7 437.4,357.7 437.6,357.3 437.8,356.3 438.0,356.7 438.2,357.7 438.4,358.0 438.6,357.4 438.8,357.9 439.0,357.0 439.2,357.2 439.4,357.3 439.6,357.5 439.8,356.7 440.0,357.8 440.2,358.0 440.4,356.9 440.6,356.8 440.8,357.6 441.0,357.2 441.2,356.3 441.4,357.6 441.6,357.2 441.8,356.8 442.0,358.0 442.2,356.8 442.4,356.2 442.6,356.6 442.8,355.8 443.0,355.9 443.2,356.4 443.4,355.7 443.6,355.7 443.8,356.9 444.0,356.6 444.2,356.7 444.4,356.7 444.6,356.8 444.8,357.4 445.0,356.8 445.2,357.9 445.4,356.6 445.6,357.1 445.8,356.7 446.0,357.4 446.2,357.9 446.4,358.3 446.6,357.6 446.8,357.8 447.0,357.6 447.2,357.4 447.4,357.1 447.6,357.6 447.8,356.7 448.0,357.5 448.2,357.4 448.4,357.0 448.6,356.7 448.8,356.5 449.0,357.9 449.2,356.3 449.4,357.6 449.6,356.9 449.8,356.3 450.0,355.7 450.2,356.6 450.4,356.6 450.6,355.0 450.8,354.9 451.0,355.1 451.2,354.3 451.4,354.6 451.6,352.9 451.8,353.0 452.0,351.8 452.2,353.1 452.4,351.5 452.6,350.6 452.8,351.5 453.0,351.4 453.2,352.2 453.4,350.8 453.6,350.5 453.8,350.2 454.0,349.9 454.2,348.3 454.4,348.1 454.6,347.2 454.8,346.7 455.0,346.8 455.2,347.3 455.4,347.7 455.6,349.8 455.8,349.8 456.0,352.2 456.2,353.2 456.4,353.7 456.6,354.3 456.8,355.2 457.0,356.1 457.2,356.6 457.4,356.7 457.6,357.2 457.8,356.6 458.0,357.1 458.2,356.3 458.4,357.4 458.6,357.2 458.8,356.9 459.0,357.7 459.2,357.5 459.4,355.9 459.6,357.2 459.8,356.5 460.0,357.7 460.2,358.4 460.4,357.0 460.6,357.2 460.8,357.1 461.0,357.4 461.2,357.5 461.4,357.8 461.6,356.8 461.8,358.0 462.0,356.8 462.2,357.4 462.4,357.8 462.6,357.6 462.8,356.8 463.0,356.9 463.2,357.0 463.4,357.2 463.6,357.7 463.8,356.5 464.0,357.3 464.2,357.4 464.4,357.3 464.6,357.2 464.8,357.7 465.0,357.1 465.2,357.3 465.4,357.1 465.6,357.7 465.8,355.8 466.0,357.4 466.2,356.6 466.4,356.6 466.6,356.2 466.8,355.7 467.0,356.5 467.2,356.3 467.4,356.9 467.6,355.8 467.8,357.4 468.0,356.7 468.2,356.4 468.4,356.2 468.6,356.1 468.8,355.9 469.0,356.2 469.2,356.5 469.4,356.4 469.6,355.7 469.8,356.3 470.0,356.0 470.2,356.6 470.4,357.5 470.6,356.8 470.8,356.3 471.0,355.6 471.2,355.7 471.4,355.6 471.6,356.9 471.8,356.1 472.0,356.5 472.2,356.2 472.4,356.5 472.6,357.3 472.8,356.1 473.0,356.3 473.2,356.1 473.4,357.1 473.6,356.1 473.8,356.1 474.0,356.1 474.2,356.1 474.4,357.1 474.6,358.3 474.8,356.5 475.0,357.5 475.2,357.3 475.4,356.7 475.6,357.1 475.8,357.2 476.0,357.0 476.2,358.3 476.4,356.6 476.6,357.7 476.8,357.7 477.0,357.3 477.2,357.7 477.4,358.0 477.6,357.8 477.8,357.9 478.0,358.0 478.2,357.0 478.4,358.4 478.6,358.7 478.8,358.3 479.0,358.3 479.2,357.5 479.4,358.0 479.6,357.8 479.8,357.9 480.0,358.4 480.2,357.9 480.4,358.2 480.6,357.7 480.8,358.2 481.0,358.3 481.2,358.1 481.4,358.1 481.6,358.9 481.8,357.9 482.0,358.0 482.2,358.1 482.4,358.7 482.6,358.9 482.8,358.4 483.0,358.1 483.2,358.2 483.4,358.6 483.6,358.0 483.8,358.7 484.0,358.7 484.2,358.3 484.4,358.5 484.6,358.5 484.8,358.8 485.0,358.0 485.2,358.7 485.4,358.2 485.6,358.1 485.8,358.3 486.0,358.2 486.2,357.9 486.4,357.6 486.6,357.8 486.8,358.5 487.0,358.6 487.2,358.0 487.4,358.2 487.6,357.4 487.8,357.5 488.0,357.6 488.2,356.9 488.4,356.8 488.6,357.2 488.8,356.9 489.0,356.5 489.2,357.1 489.4,356.7 489.6,357.3 489.8,356.7 490.0,356.4 490.2,356.6 490.4,356.3 490.6,356.0 490.8,356.1 491.0,356.9 491.2,356.9 491.4,357.3 491.6,355.9 491.8,356.6 492.0,356.7 492.2,357.1 492.4,356.9 492.6,356.9 492.8,357.5 493.0,357.1 493.2,356.3 493.4,357.5 493.6,357.3 493.8,356.4 494.0,357.1 494.2,356.1 494.4,357.1 494.6,356.3 494.8,355.9 495.0,356.0 495.2,355.8 495.4,356.4 495.6,356.5 495.8,356.5 496.0,356.2 496.2,354.6 496.4,356.7 496.6,355.7 496.8,356.9 497.0,357.4 497.2,357.0 497.4,356.8 497.6,356.9 497.8,357.0 498.0,356.9 498.2,357.0 498.4,356.9 498.6,357.8 498.8,357.2 499.0,357.7 499.2,357.1 499.4,357.2 499.6,357.0 499.8,357.3 500.0,357.5 500.2,357.2 500.4,356.7 500.6,356.6 500.8,357.8 501.0,356.8 501.2,356.8 501.4,357.6 501.6,357.4 501.8,357.1 502.0,356.6 502.2,358.1 502.4,357.1 502.6,357.2 502.8,356.9 503.0,356.3 503.2,356.3 503.4,357.2 503.6,357.1 503.8,356.6 504.0,355.9 504.2,355.4 504.4,355.4 504.6,355.0 504.8,355.4 505.0,355.6 505.2,356.6 505.4,356.2 505.6,356.1 505.8,356.4 506.0,355.7 506.2,357.2 506.4,357.5 506.6,358.1 506.8,358.0 507.0,358.0 507.2,357.9 507.4,358.1 507.6,358.4 507.8,357.5 508.0,357.8 508.2,357.5 508.4,358.5 508.6,358.4 508.8,358.2 509.0,357.7 509.2,358.1 509.4,358.0 509.6,358.1 509.8,358.0 510.0,358.3 510.2,358.0 510.4,358.4 510.6,358.2 510.8,358.1 511.0,358.1 511.2,358.1 511.4,358.5 511.6,358.1 511.8,358.3 512.0,358.1 512.2,357.8 512.4,358.6 512.6,358.0 512.8,358.5 513.0,358.4 513.2,357.8 513.4,358.0 513.6,358.1 513.8,358.1 514.0,357.9 514.2,358.5 514.4,358.2 514.6,358.4 514.8,358.2 515.0,358.4 515.2,358.1 515.4,358.3 515.6,358.5 515.8,358.3 516.0,358.2 516.2,358.0 516.4,358.3 516.6,358.4 516.8,358.2 517.0,358.1 517.2,358.5 517.4,359.0 517.6,358.2 517.8,358.4 518.0,358.4 518.2,357.5 518.4,358.3 518.6,358.1 518.8,358.7 519.0,358.3 519.2,358.1 519.4,358.3 519.6,358.4 519.8,358.2 520.0,358.4 520.2,358.0 520.4,358.3 520.6,358.7 520.8,359.0 521.0,358.7 521.2,358.5 521.4,358.8 521.6,358.8 521.8,359.0 522.0,358.8 522.2,358.5 522.4,358.6 522.6,358.6 522.8,358.6 523.0,358.6 523.2,358.3 523.4,358.0 523.6,358.4 523.8,358.0 524.0,358.6 524.2,358.6 524.4,358.1 524.6,358.8 524.8,358.9 525.0,358.6 525.2,359.1 525.4,359.2 525.6,358.2 525.8,358.9 526.0,358.7 526.2,358.7 526.4,358.9 526.6,358.4 526.8,358.4 527.0,358.4 527.2,358.4 527.4,358.6 527.6,358.2 527.8,358.3 528.0,358.8 528.2,358.6 528.4,358.7 528.6,358.0 528.8,358.3 529.0,358.3 529.2,358.4 529.4,358.2 529.6,358.6 529.8,358.3 530.0,358.3 530.2,358.2 530.4,358.4 530.6,358.0 530.8,358.4 531.0,358.2 531.2,358.0 531.4,357.9 531.6,358.0 531.8,358.0 532.0,357.7 532.2,357.3 532.4,357.3 532.6,356.7 532.8,357.0 533.0,356.1 533.2,354.6 533.4,356.4 533.6,355.5 533.8,354.3 534.0,354.7" fill="none" stroke="#ff0000" stroke-width="1" stroke-linejoin="round"/>
<g stroke="#000" fill="none"><path d="M34 3L34 373.5" stroke-width="1.7"/><path d="M534.5 3L534.5 373.5" stroke-width="1.4"/><path d="M33.2 3.7L535.15 3.7" stroke-width="1.3"/><path d="M33.2 372.75L535.15 372.75" stroke-width="1.5"/></g>
<g stroke="#000" stroke-width="1.4"><line x1="40.48" y1="372.6" x2="40.48" y2="376.6"/><line x1="53.83" y1="372.6" x2="53.83" y2="376.6"/><line x1="67.18" y1="372.6" x2="67.18" y2="380.1"/><line x1="80.53" y1="372.6" x2="80.53" y2="376.6"/><line x1="93.88" y1="372.6" x2="93.88" y2="376.6"/><line x1="107.24" y1="372.6" x2="107.24" y2="376.6"/><line x1="120.59" y1="372.6" x2="120.59" y2="376.6"/><line x1="133.94" y1="372.6" x2="133.94" y2="380.1"/><line x1="147.29" y1="372.6" x2="147.29" y2="376.6"/><line x1="160.64" y1="372.6" x2="160.64" y2="376.6"/><line x1="174.00" y1="372.6" x2="174.00" y2="376.6"/><line x1="187.35" y1="372.6" x2="187.35" y2="376.6"/><line x1="200.70" y1="372.6" x2="200.70" y2="380.1"/><line x1="214.05" y1="372.6" x2="214.05" y2="376.6"/><line x1="227.40" y1="372.6" x2="227.40" y2="376.6"/><line x1="240.76" y1="372.6" x2="240.76" y2="376.6"/><line x1="254.11" y1="372.6" x2="254.11" y2="376.6"/><line x1="267.46" y1="372.6" x2="267.46" y2="380.1"/><line x1="280.81" y1="372.6" x2="280.81" y2="376.6"/><line x1="294.16" y1="372.6" x2="294.16" y2="376.6"/><line x1="307.52" y1="372.6" x2="307.52" y2="376.6"/><line x1="320.87" y1="372.6" x2="320.87" y2="376.6"/><line x1="334.22" y1="372.6" x2="334.22" y2="380.1"/><line x1="347.57" y1="372.6" x2="347.57" y2="376.6"/><line x1="360.92" y1="372.6" x2="360.92" y2="376.6"/><line x1="374.28" y1="372.6" x2="374.28" y2="376.6"/><line x1="387.63" y1="372.6" x2="387.63" y2="376.6"/><line x1="400.98" y1="372.6" x2="400.98" y2="380.1"/><line x1="414.33" y1="372.6" x2="414.33" y2="376.6"/><line x1="427.68" y1="372.6" x2="427.68" y2="376.6"/><line x1="441.04" y1="372.6" x2="441.04" y2="376.6"/><line x1="454.39" y1="372.6" x2="454.39" y2="376.6"/><line x1="467.74" y1="372.6" x2="467.74" y2="380.1"/><line x1="481.09" y1="372.6" x2="481.09" y2="376.6"/><line x1="494.44" y1="372.6" x2="494.44" y2="376.6"/><line x1="507.80" y1="372.6" x2="507.80" y2="376.6"/><line x1="521.15" y1="372.6" x2="521.15" y2="376.6"/><line x1="534.50" y1="372.6" x2="534.50" y2="380.1"/></g>
<g text-anchor="middle"><text transform="translate(67.23,402.0) scale(0.985,1.02)">10</text><text transform="translate(133.99,402.0) scale(0.985,1.02)">20</text><text transform="translate(200.75,402.0) scale(0.985,1.02)">30</text><text transform="translate(267.51,402.0) scale(0.985,1.02)">40</text><text transform="translate(334.27,402.0) scale(0.985,1.02)">50</text><text transform="translate(401.03,402.0) scale(0.985,1.02)">60</text><text transform="translate(467.79,402.0) scale(0.985,1.02)">70</text><text transform="translate(534.55,402.0) scale(0.985,1.02)">80</text></g>
<g fill="#000"><circle cx="139" cy="268.5" r="3.5"/><circle cx="178.6" cy="65.5" r="3.5"/><circle cx="245.3" cy="330.8" r="3.5"/><circle cx="263.1" cy="334.5" r="3.5"/><circle cx="283.9" cy="335.3" r="3.5"/><circle cx="335.5" cy="330.1" r="3.5"/><circle cx="399.8" cy="335.4" r="3.5"/><circle cx="455.4" cy="339.7" r="3.5"/><path d="M111.8 301.8L116.2 307.2L111.8 312.6L107.4 307.2Z"/><path d="M174.6 303.0L179.0 308.4L174.6 313.8L170.2 308.4Z"/><path d="M205.9 324.8L210.3 330.2L205.9 335.6L201.5 330.2Z"/><path d="M221.5 329.2L225.9 334.6L221.5 340.0L217.1 334.6Z"/><path d="M236.5 322.8L240.9 328.2L236.5 333.6L232.1 328.2Z"/><path d="M250.5 335.1L254.9 340.5L250.5 345.9L246.1 340.5Z"/><path d="M272.6 322.6L277.0 328L272.6 333.4L268.2 328Z"/><path d="M291.9 336.3L296.3 341.7L291.9 347.1L287.5 341.7Z"/><path d="M362.4 338.2L366.8 343.6L362.4 349.0L358.0 343.6Z"/><path d="M384.5 336.2L388.9 341.6L384.5 347.0L380.1 341.6Z"/><path d="M406.6 333.7L411.0 339.1L406.6 344.5L402.2 339.1Z"/><path d="M430.5 340.0L434.9 345.4L430.5 350.8L426.1 345.4Z"/><path d="M494 341.7L498.4 347.1L494 352.5L489.6 347.1Z"/><path d="M503.1 338.8L507.5 344.2L503.1 349.6L498.7 344.2Z"/></g>
<circle cx="192" cy="24.3" r="4.8" fill="#000"/>
<text transform="translate(198.5,30.4) scale(1,1.02)">-Hexagonal quartz</text>
<path d="M394.05 17.9L400.2 24.05L394.05 30.2L387.9 24.05Z" fill="#000"/>
<text transform="translate(402,30.4) scale(1,1.02)">-Mullite</text>
<text transform="translate(373.5,308.8) scale(1.004,1.035)">Ceramics waste</text>
<text transform="translate(275,428.6) scale(1,1.03)">2θ (°)</text>
<text transform="translate(20,214.2) rotate(-90)">Intensity (a.u)</text>
</svg>
</body></html>
